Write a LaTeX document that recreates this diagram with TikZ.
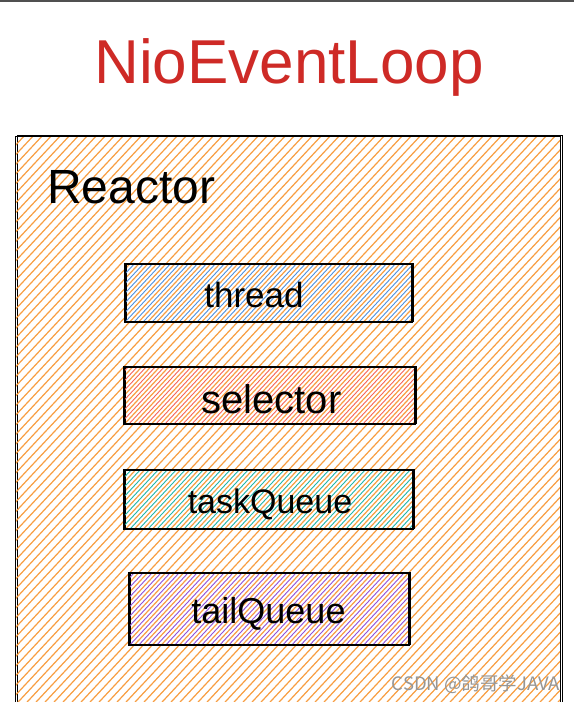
\documentclass[tikz,border=0pt]{standalone}
\usepackage{fontspec}
\setmainfont{Liberation Sans}
\newfontfamily\cjk{Noto Sans CJK SC}
\definecolor{hatchorange}{RGB}{248,158,66}
\definecolor{hatchblue}{RGB}{74,144,226}
\definecolor{hatchred}{RGB}{245,100,90}
\definecolor{hatchteal}{RGB}{30,182,172}
\definecolor{hatchpurple}{RGB}{140,80,220}
\definecolor{titlered}{RGB}{206,42,38}
\definecolor{topgray}{RGB}{80,80,80}
\definecolor{wmgray}{RGB}{150,150,150}
\tikzset{
  hatch/.style n args={3}{path picture={
    \pgftransformreset
    \foreach \k in {-61,...,61}{
      \draw[#1,line width=#3] (15+9*\k+#2,715) -- ++(667pt,715pt);
    }}},
  sketchbox/.style={draw=black,line width=1.2pt,inner sep=0pt,
    preaction={draw=black,line width=0.5pt,transform canvas={shift={(1.5pt,1pt)}}}},
  lbl/.style={anchor=base,inner sep=0pt,text=black},
}
\begin{document}
\begin{tikzpicture}[x=1pt,y=-1pt]
\useasboundingbox (0,0) rectangle (574,702);
\fill[white] (0,0) rectangle (574,702);
\fill[topgray] (0,0) rectangle (574,1.6);
% title
\node[anchor=base,inner sep=0pt,text=titlered,font=\fontsize{62}{70}\selectfont] (title) at (289,83) {NioEventLoop};
% outer reactor box
\node[sketchbox,line width=1.4pt,anchor=north west,minimum width=545pt,minimum height=579pt,hatch={hatchorange}{0}{1.2pt}] (reactor) at (15,136) {};
\node[anchor=base west,inner sep=0pt,font=\fontsize{48}{54}\selectfont] (reactorlbl) at (47,203) {Reactor};
% inner boxes
\node[sketchbox,minimum width=287pt,minimum height=58pt,hatch={hatchblue}{4.5}{0.9pt}] (threadbox) at (268.5,293) {};
\node[lbl,font=\fontsize{35}{40}\selectfont] (thread) at (254,307) {thread};
\node[sketchbox,minimum width=291pt,minimum height=57pt,hatch={hatchred}{4.5}{0.9pt}] (selectorbox) at (269.5,395.5) {};
\node[lbl,font=\fontsize{40}{46}\selectfont] (selector) at (271.5,413) {selector};
\node[sketchbox,minimum width=289pt,minimum height=59pt,hatch={hatchteal}{4.5}{0.9pt}] (taskbox) at (268.5,499.5) {};
\node[lbl,font=\fontsize{34}{40}\selectfont] (taskq) at (270,513) {taskQueue};
\node[sketchbox,minimum width=280pt,minimum height=72pt,hatch={hatchpurple}{4.5}{0.9pt}] (tailbox) at (269,609) {};
\node[lbl,font=\fontsize{36}{42}\selectfont] (tailq) at (268.5,623) {tailQueue};
% watermark
\node[anchor=base east,inner sep=0pt,text=wmgray,font=\cjk\fontsize{18.5}{20}\selectfont] (wm) at (560,690) {CSDN @鸽哥学JAVA};
\end{tikzpicture}
\end{document}
